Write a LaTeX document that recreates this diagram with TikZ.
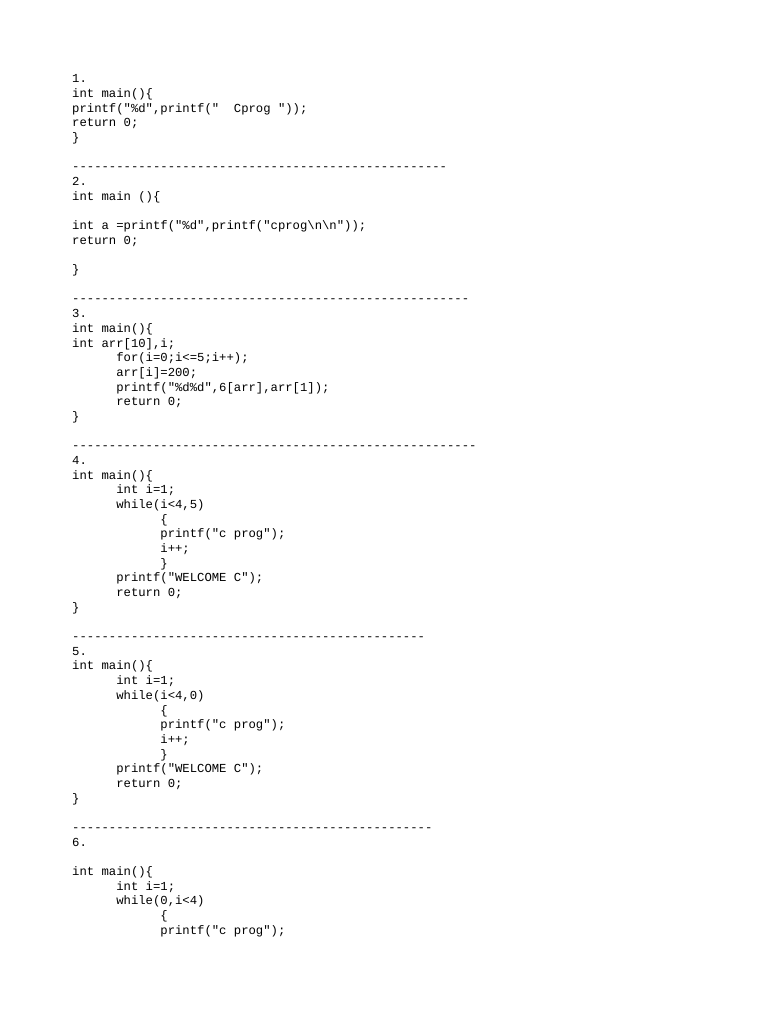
\documentclass[tikz,border=0pt]{standalone}
\usepackage{fontspec}
\newfontfamily\codefont{Liberation Mono}
\begin{document}
\begin{tikzpicture}[x=1pt,y=1pt,
  code/.style={anchor=north west,inner sep=0pt,align=left,font=\codefont\fontsize{12.25pt}{14.68pt}\selectfont}]
\fill[white] (0,0) rectangle (768,-1024);
\useasboundingbox (0,0) rectangle (768,-1024);
\def\a{\hspace*{3.6em}}
\def\b{\hspace*{7.2em}}
\node[code] (txt) at (72,-74.5) {1.\\
int main()\{\\
printf("\%d",printf("\ \ Cprog "));\\
return 0;\\
\}\\
\mbox{}\\
---------------------------------------------------\\
2.\\
int main ()\{\\
\mbox{}\\
int a =printf("\%d",printf("cprog\textbackslash n\textbackslash n"));\\
return 0;\\
\mbox{}\\
\}\\
\mbox{}\\
------------------------------------------------------\\
3.\\
int main()\{\\
int arr[10],i;\\
\a for(i=0;i<=5;i++);\\
\a arr[i]=200;\\
\a printf("\%d\%d",6[arr],arr[1]);\\
\a return 0;\\
\}\\
\mbox{}\\
-------------------------------------------------------\\
4.\\
int main()\{\\
\a int i=1;\\
\a while(i<4,5)\\
\b \{\\
\b printf("c prog");\\
\b i++;\\
\b \}\\
\a printf("WELCOME C");\\
\a return 0;\\
\}\\
\mbox{}\\
------------------------------------------------\\
5.\\
int main()\{\\
\a int i=1;\\
\a while(i<4,0)\\
\b \{\\
\b printf("c prog");\\
\b i++;\\
\b \}\\
\a printf("WELCOME C");\\
\a return 0;\\
\}\\
\mbox{}\\
-------------------------------------------------\\
6.\\
\mbox{}\\
int main()\{\\
\a int i=1;\\
\a while(0,i<4)\\
\b \{\\
\b printf("c prog");};
\end{tikzpicture}
\end{document}
